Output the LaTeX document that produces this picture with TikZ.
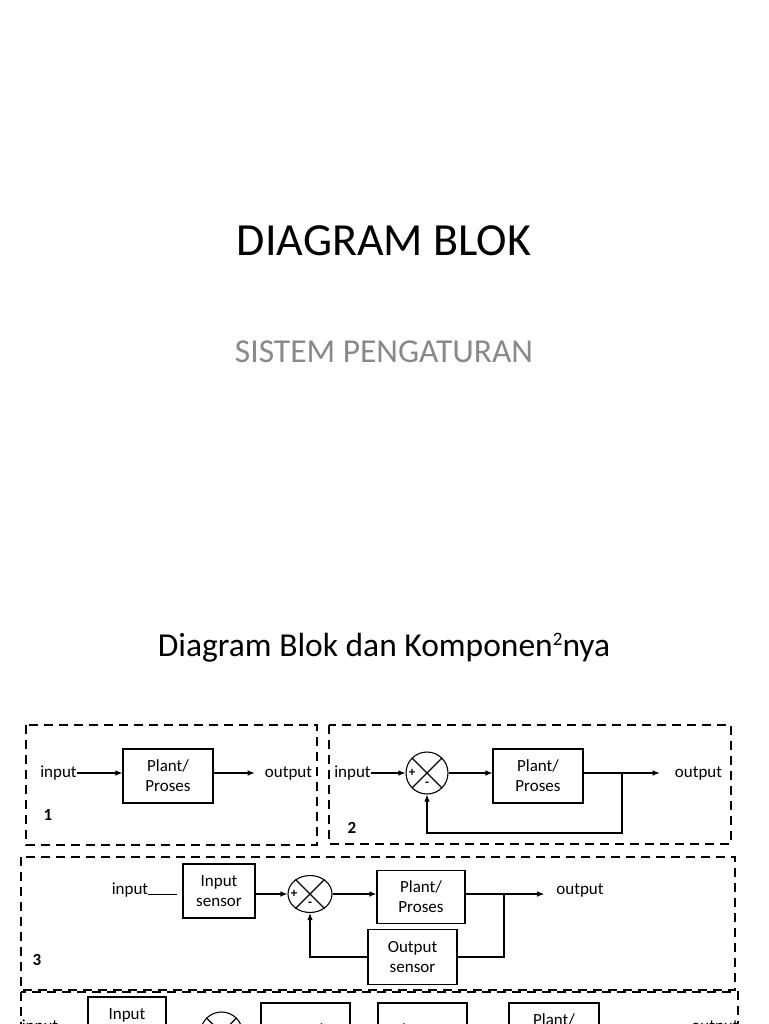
\documentclass[tikz,border=0pt]{standalone}
\usepackage{fontspec}
\setmainfont{Carlito}
\usetikzlibrary{positioning,arrows.meta,shapes.geometric}
\definecolor{subgray}{RGB}{137,137,137}

\begin{document}
\begin{tikzpicture}[x=1pt,y=-1pt,
box/.style={draw,line width=1.1pt,rectangle,minimum width=90pt,minimum height=54pt,inner sep=0pt,align=center,font=\fontsize{17}{20}\selectfont},
sumjn/.style={draw,line width=1.1pt,circle,minimum size=42pt,inner sep=0pt},
sgn/.style={inner sep=0pt,font=\fontsize{13}{13}\selectfont\bfseries},
sig/.style={inner sep=0pt,font=\fontsize{17}{20}\selectfont},
num/.style={inner sep=0pt,font=\fontsize{17}{20}\selectfont\bfseries},
frame/.style={line width=2.6pt,dash pattern=on 9pt off 6pt},
lin/.style={line width=1.1pt},
arr/.style={line width=1.1pt,-{Latex[length=7pt,width=5.5pt]}}]
\useasboundingbox[fill=white] (0,0) rectangle (768,1024);

\node (ttl) [anchor=base,font=\fontsize{46}{50}\selectfont] at (384,255) {DIAGRAM BLOK};
\node (sub) [anchor=base,text=subgray,font=\fontsize{33.5}{40}\selectfont] at (384,362) {SISTEM PENGATURAN};
\node (hdr) [anchor=base,font=\fontsize{33.5}{40}\selectfont] at (384,656) {Diagram Blok dan Komponen\raisebox{11pt}{\fontsize{19}{19}\selectfont 2}nya};

\draw[frame] (26,725) rectangle (317,845);
\draw[frame] (329,725) rectangle (731,844);
\draw[frame] (21,857) rectangle (735,990);
\draw[frame] (21,992) rectangle (738,1110);

\node (in1) [sig] at (58.5,773) {input};
\node (pp1) [box] at (168,776) {Plant/\\Proses};
\node (out1) [sig] at (288.5,773) {output};
\node (n1) [num] at (48,815) {1};
\draw[arr] (in1) -- (in1 -| pp1.west);
\draw[arr] (pp1.east |- in1) -- ([xshift=-10pt]out1.west);

\node (in2) [sig] at (352.5,773) {input};
\node (sum2) [sumjn,
    label={[sgn,label distance=-10pt]180:+},
    label={[sgn,label distance=-13pt]270:-}] at (427,773) {};
\draw[lin] (sum2.45) -- (sum2.225) (sum2.135) -- (sum2.315);
\node (pp2) [box] at (538,776) {Plant/\\Proses};
\coordinate (tap2) at (622,773);
\coordinate (fb2) at (622,833);
\node (out2) [sig] at (698.5,773) {output};
\node (n2) [num] at (352,828) {2};
\draw[arr] (in2) -- (sum2);
\draw[arr] (sum2) -- (sum2 -| pp2.west);
\draw[arr] (pp2.east |- sum2) -- ([xshift=-15pt]out2.west);
\draw[arr] (tap2) -- (fb2) -| (sum2.south);

\node (in3) [sig] at (130,890) {input};
\node (isen3) [box,minimum width=72pt] at (219,891) {Input\\sensor};
\node (sum3) [sumjn,ellipse,minimum width=44pt,minimum height=37pt,
    label={[sgn,label distance=-10pt]180:+},
    label={[sgn,label distance=-11pt]270:-}] at (310,894) {};
\draw[lin] (sum3.45) -- (sum3.225) (sum3.135) -- (sum3.315);
\node (pp3) [box,minimum width=88pt,minimum height=53pt] at (421,897) {Plant/\\Proses};
\coordinate (tap3) at (504,894);
\node (out3) [sig] at (580,890) {output};
\node (osen3) [box,minimum width=89pt,minimum height=55pt] at (412.5,957) {Output\\sensor};
\node (n3) [num] at (37,960) {3};
\draw[lin] (in3.base east) -- ([xshift=-5pt]isen3.west |- in3.base);
\draw[arr] (isen3.east |- sum3) -- (sum3.west);
\draw[arr] (sum3) -- (sum3 -| pp3.west);
\draw[arr] (pp3.east |- sum3) -- ([xshift=-12pt]out3.west |- sum3);
\draw[lin] (tap3) |- (osen3.east);
\draw[arr] (osen3.west) -| (sum3.south);

\node (in4) [sig] at (40,1027) {input};
\node (isen4) [box,minimum width=78pt] at (127,1024) {Input\\sensor};
\node (sum4) [sumjn,
    label={[sgn,label distance=-10pt]180:+},
    label={[sgn,label distance=-13pt]270:-}] at (221.5,1033) {};
\draw[lin] (sum4.45) -- (sum4.225) (sum4.135) -- (sum4.315);
\node (ctl4) [box,minimum width=89pt] at (305.5,1030) {Kontroler};
\node (akt4) [box,minimum width=89pt] at (422.5,1030) {Aktuator};
\node (pp4) [box] at (554,1030) {Plant/\\Proses};
\node (out4) [sig] at (715,1027) {output};
\draw[arr] (in4) -- (in4 -| isen4.west);
\draw[arr] (isen4.east |- in4) -- (sum4.west |- in4);
\draw[arr] (sum4.east |- in4) -- (ctl4.west |- in4);
\draw[arr] (ctl4.east |- in4) -- (akt4.west |- in4);
\draw[arr] (akt4.east |- in4) -- (pp4.west |- in4);
\draw[arr] (pp4.east |- in4) -- ([xshift=-12pt]out4.west |- in4);
\end{tikzpicture}
\end{document}
